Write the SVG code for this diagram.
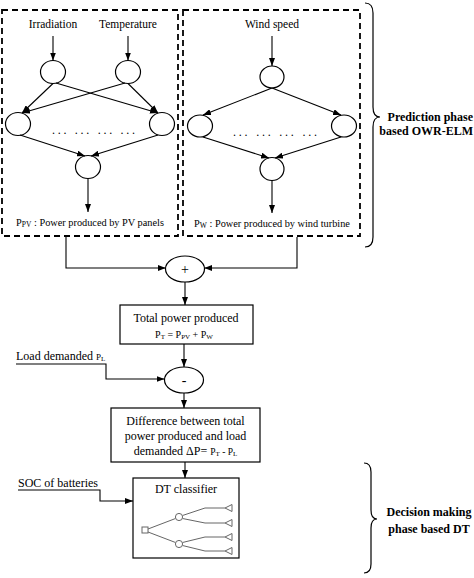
<svg xmlns="http://www.w3.org/2000/svg" width="474" height="578" viewBox="0 0 474 578">
<defs>
<marker id="arr" markerUnits="userSpaceOnUse" markerWidth="8" markerHeight="6" refX="8" refY="3" orient="auto"><path d="M0,0 L8,3 L0,6 z" fill="#000"/></marker>
<style>
text{font-family:"Liberation Serif","Times New Roman",serif;fill:#000}
.t12{font-size:12px}
.lab{font-size:11.5px}
.sm{font-size:10.3px}
.b{font-size:12px;font-weight:bold}
.dash{fill:none;stroke:#000;stroke-width:1.8;stroke-dasharray:6,4}
.node{fill:#fff;stroke:#000;stroke-width:1.2}
.box{fill:#fff;stroke:#000;stroke-width:1.2}
.con{fill:none;stroke:#000;stroke-width:1.1;marker-end:url(#arr)}
.tree{fill:#fff;stroke:#666;stroke-width:1}
.treeln{fill:none;stroke:#666;stroke-width:1}
.brace{fill:none;stroke:#000;stroke-width:1.2}
</style>
</defs>
<rect width="474" height="578" fill="#fff"/>

<g id="pv-panel">
<rect class="dash" x="2" y="10" width="176" height="226"/>
<text class="lab" x="53" y="28" text-anchor="middle">Irradiation</text>
<text class="lab" x="128" y="28" text-anchor="middle">Temperature</text>
<text class="t12" x="52" y="134" textLength="83" lengthAdjust="spacing">... ... ... ...</text>
<text class="sm" x="90" y="226" text-anchor="middle">P<tspan font-size="7.5" dy="1">PV</tspan><tspan dy="-1"> : Power produced by PV panels</tspan></text>
</g>
<g id="pv-in1"><ellipse class="node" cx="53" cy="72" rx="12.5" ry="11.5"/></g>
<g id="pv-in2"><ellipse class="node" cx="128" cy="72" rx="12.5" ry="11.5"/></g>
<g id="pv-h1"><ellipse class="node" cx="18" cy="124" rx="12.5" ry="11.5"/></g>
<g id="pv-h2"><ellipse class="node" cx="162" cy="124" rx="12.5" ry="11.5"/></g>
<g id="pv-out"><ellipse class="node" cx="88" cy="167" rx="12.5" ry="11.5"/></g>

<g id="wind-panel">
<rect class="dash" x="183" y="10" width="177" height="226"/>
<text class="lab" x="272" y="28" text-anchor="middle">Wind speed</text>
<text class="t12" x="233" y="136" textLength="84" lengthAdjust="spacing">... ... ... ...</text>
<text class="sm" x="272" y="227" text-anchor="middle">P<tspan font-size="7.5" dy="1">W</tspan><tspan dy="-1"> : Power produced by wind turbine</tspan></text>
</g>
<g id="w-in"><ellipse class="node" cx="272" cy="77" rx="12" ry="11"/></g>
<g id="w-h1"><ellipse class="node" cx="200" cy="126" rx="12.5" ry="11"/></g>
<g id="w-h2"><ellipse class="node" cx="344" cy="126" rx="12.5" ry="11"/></g>
<g id="w-out"><ellipse class="node" cx="272" cy="169" rx="12" ry="11.5"/></g>

<g id="sum">
<ellipse class="node" cx="185" cy="269" rx="19.5" ry="13"/>
<text x="185" y="274" font-size="14" text-anchor="middle">+</text>
</g>

<g id="total">
<rect class="box" x="120" y="305" width="133" height="39"/>
<text class="t12" x="186" y="322" text-anchor="middle">Total power produced</text>
<text x="184" y="338" font-size="10" text-anchor="middle">P<tspan font-size="7" dy="1">T</tspan><tspan dy="-1"> = P</tspan><tspan font-size="7" dy="1">PV</tspan><tspan dy="-1"> + P</tspan><tspan font-size="7" dy="1">W</tspan></text>
</g>

<g id="load">
<text class="t12" x="16" y="360">Load demanded <tspan font-size="9">P</tspan><tspan font-size="7" dy="1">L</tspan></text>
</g>

<g id="minus">
<ellipse class="node" cx="184" cy="380" rx="19.5" ry="13"/>
<text x="184" y="385" font-size="14" text-anchor="middle">-</text>
</g>

<g id="difference">
<rect class="box" x="111" y="408" width="149" height="54"/>
<text class="t12" x="185.5" y="425" text-anchor="middle">Difference between total</text>
<text class="t12" x="185.5" y="440" text-anchor="middle">power produced and load</text>
<text class="t12" x="185.5" y="455" text-anchor="middle">demanded ΔP= <tspan font-size="9.5">P</tspan><tspan font-size="7" dy="1">T</tspan><tspan font-size="9.5" dy="-1"> - P</tspan><tspan font-size="7" dy="1">L</tspan></text>
</g>

<g id="soc">
<text class="t12" x="18" y="487">SOC of batteries</text>
</g>

<g id="dt">
<rect class="box" x="133" y="478" width="106" height="80"/>
<text class="t12" x="186" y="493" text-anchor="middle">DT classifier</text>
<path class="treeln" d="M148,529 L175.5,518.5 M148,532 L175.5,542.5 M182.5,515.5 L205,508 L225,508 M182.5,518.5 L205,523 L225,523 M182.5,542.5 L205,537 L225,537 M182.5,545.5 L205,551 L225,551"/>
<rect class="tree" x="142" y="527" width="6" height="6"/>
<circle class="tree" cx="179" cy="517" r="3.6"/>
<circle class="tree" cx="179" cy="544" r="3.6"/>
<path class="tree" d="M225,508 L232,504.5 L232,511.5 Z M225,523 L232,519.5 L232,526.5 Z M225,537 L232,533.5 L232,540.5 Z M225,551 L232,547.5 L232,554.5 Z"/>
</g>

<g id="phase-prediction">
<path class="brace" d="M365,3 Q373,3 373,13 L373,107 Q373,117 380,117 Q373,117 373,127 L373,237 Q373,247 365,247"/>
<text class="b" x="473" y="121" text-anchor="end" font-size="11">Prediction phase</text>
<text class="b" x="473" y="135" text-anchor="end" font-size="11">based OWR-ELM</text>
</g>

<g id="phase-decision">
<path class="brace" d="M364,463 Q371,463 371,472 L371,510 Q371,519 377,519 Q371,519 371,528 L371,564 Q371,573 364,573"/>
<text class="b" x="429" y="516" text-anchor="middle">Decision making</text>
<text class="b" x="429" y="533" text-anchor="middle">phase based DT</text>
</g>

<g id="connectors">
<path class="con" d="M53,36 L53,60.5"/>
<path class="con" d="M128,36 L128,60.5"/>
<path class="con" d="M53,83.5 L22,113"/>
<path class="con" d="M56,83 L158,113"/>
<path class="con" d="M125,83 L22,113"/>
<path class="con" d="M128,83.5 L158,113"/>
<path class="con" d="M20,135 L85,156"/>
<path class="con" d="M158,135 L91,156"/>
<path class="con" d="M88,178.5 L88,212"/>
<path class="con" d="M272,36 L272,66"/>
<path class="con" d="M272,88 L203,115"/>
<path class="con" d="M272,88 L341,115"/>
<path class="con" d="M203,137 L269,158"/>
<path class="con" d="M341,137 L275,158"/>
<path class="con" d="M272,180.5 L272,213"/>
<path class="con" d="M66,237 L66,268 L165.7,268"/>
<path class="con" d="M297,237 L297,268 L204.3,268"/>
<path class="con" d="M185,282 L185,305"/>
<path class="con" d="M184,344 L184,367"/>
<path class="con" d="M16,364 L106,364 L106,379 L164.5,379"/>
<path class="con" d="M184,393 L184,408"/>
<path class="con" d="M185,462 L185,478"/>
<path class="con" d="M18,490 L100,490 L100,501 L133,501"/>
</g>
</svg>
